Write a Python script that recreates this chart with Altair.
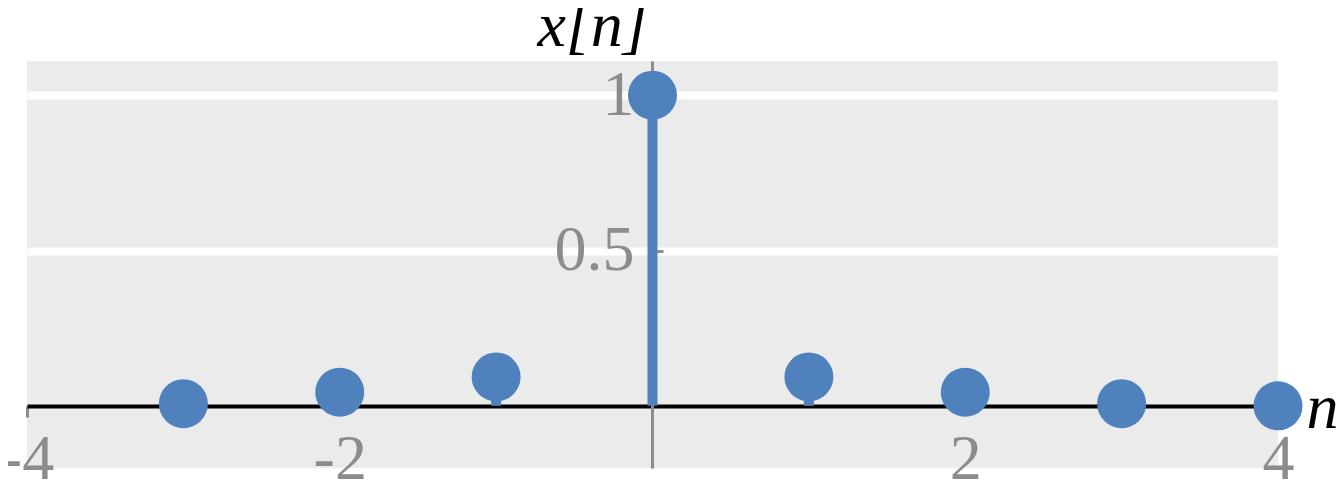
import altair as alt
import pandas as pd

n_vals = [-3, -2, -1, 0, 1, 2, 3, 4]
x_vals = [0.007, 0.044, 0.093, 1.0, 0.093, 0.044, 0.007, 0.0]
x_ticks = [-4, -2, 2, 4]
y_ticks = [0.5, 1]

df = pd.DataFrame({"n": n_vals, "v": x_vals})

BLUE = "#4f81bd"
GRAY = "#8c8c8c"
FONT = "Liberation Serif"

x_enc = alt.X(
    "n:Q",
    scale=alt.Scale(domain=[-4, 4], nice=False, zero=False),
    axis=alt.Axis(
        orient="bottom",
        offset=-62,
        values=x_ticks,
        domainColor="black",
        domainWidth=4,
        tickColor={"condition": {"test": "datum.value == -4", "value": GRAY}, "value": "transparent"},
        tickWidth=3,
        tickSize=11,
        grid=False,
        labelExpr="'' + datum.value",
        labelFont=FONT,
        labelFontSize=64,
        labelColor=GRAY,
        labelBaseline="alphabetic",
        labelPadding=61,
        labelFlush=False,
        labelOverlap=False,
        labelBound=False,
        title="n",
        titleFont=FONT,
        titleFontStyle="italic",
        titleFontWeight="normal",
        titleFontSize=64,
        titleColor="black",
        titleX=1279,
        titleY=21,
        titleAlign="left",
        titleBaseline="alphabetic",
    ),
)

y_enc = alt.Y(
    "v:Q",
    scale=alt.Scale(domain=[-0.2, 1.11], nice=False, zero=False),
    axis=alt.Axis(
        orient="right",
        offset=-626,
        values=y_ticks,
        domainColor=GRAY,
        domainWidth=3,
        tickColor=GRAY,
        tickWidth=3,
        tickSize=11,
        grid=True,
        gridColor="white",
        gridWidth=8,
        gridOpacity=1,
        labelExpr="'' + datum.value",
        labelFont=FONT,
        labelFontSize=64,
        labelColor=GRAY,
        labelAlign="right",
        labelBaseline="middle",
        labelPadding=-29,
        labelOverlap=False,
        labelBound=False,
        labelFlush=False,
        title="x[n]",
        titleFont=FONT,
        titleFontStyle="italic",
        titleFontWeight="normal",
        titleFontSize=64,
        titleColor="black",
        titleAngle=0,
        titleX=-60,
        titleY=-16,
        titleAlign="center",
        titleBaseline="alphabetic",
    ),
)

base = alt.Chart(df).encode(x=x_enc, y=y_enc)

stems = base.mark_rule(color=BLUE, strokeWidth=10).encode(y2=alt.datum(0))
dots = base.mark_circle(color=BLUE, size=2400, opacity=1)

chart = (
    alt.layer(stems, dots)
    .properties(
        width=1251,
        height=407,
        autosize=alt.AutoSizeParams(type="none"),
        padding={"left": 19, "top": 53, "right": 58, "bottom": 13},
    )
    .configure_view(fill="#ebebeb", strokeWidth=0)
)

chart.save("out.html", embed_options={"renderer": "svg", "actions": False})
